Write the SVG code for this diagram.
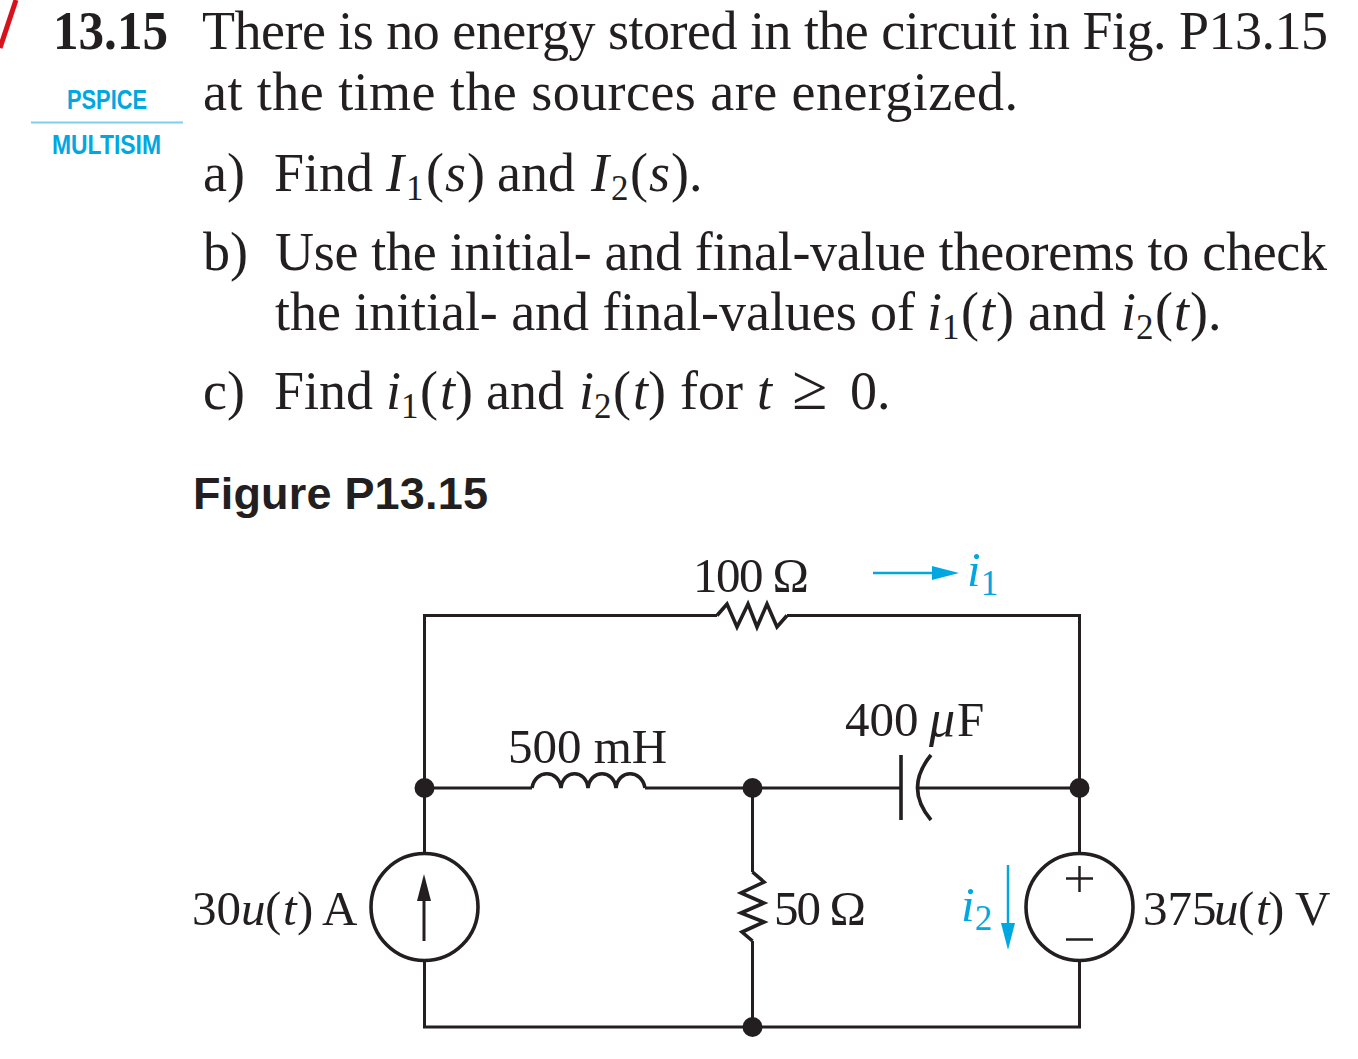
<svg xmlns="http://www.w3.org/2000/svg" width="1358" height="1059" viewBox="0 0 1358 1059">
<style>
text{font-family:"Liberation Serif","Times New Roman",serif;fill:#231f20}
.b{font-size:54px}
.c{font-size:49px}
.i{font-style:italic}
.blue{fill:#00a7e0}
.side{font-family:"Liberation Sans",Arial,sans-serif;font-weight:700;font-size:27.500px;fill:#00a7e0}
.w{fill:none;stroke:#231f20;stroke-width:3}
.thick{fill:none;stroke:#231f20;stroke-width:3.600}
.dot{fill:#231f20}
.sub{font-size:35px}
</style>
<rect width="1358" height="1059" fill="#fff"/>
<path d="M16 0L0 48" stroke="#d7121c" stroke-width="5" fill="none"/>
<g id="problem-text">
<text x="53" y="49" font-size="54" font-weight="700" textLength="115" lengthAdjust="spacingAndGlyphs">13.15</text>
<text class="b" x="202" y="49" textLength="1126">There is no energy stored in the circuit in Fig. P13.15</text>
<text class="b" x="203" y="110" textLength="815">at the time the sources are energized.</text>
<text class="side" x="67" y="109" textLength="80" lengthAdjust="spacingAndGlyphs">PSPICE</text>
<line x1="31" y1="122.500" x2="183" y2="122.500" stroke="#7fd0ee" stroke-width="2"/>
<text class="side" x="52" y="154" textLength="109" lengthAdjust="spacingAndGlyphs">MULTISIM</text>
<text class="b" x="203" y="191">a)</text>
<text class="b" y="191"><tspan x="274">Find</tspan><tspan class="i" x="386">I</tspan><tspan class="sub" x="406" dy="9">1</tspan><tspan x="426" dy="-9">(</tspan><tspan class="i" x="445">s</tspan><tspan x="467">)</tspan><tspan x="497">and</tspan><tspan class="i" x="591">I</tspan><tspan class="sub" x="611" dy="9">2</tspan><tspan x="630" dy="-9">(</tspan><tspan class="i" x="649">s</tspan><tspan x="671">).</tspan></text>
<text class="b" x="203" y="270">b)</text>
<text class="b" x="275" y="270" textLength="1052">Use the initial- and final-value theorems to check</text>
<text class="b" y="330"><tspan x="275" textLength="640">the initial- and final-values of</tspan><tspan class="i" x="927">i</tspan><tspan class="sub" x="942" dy="9">1</tspan><tspan x="961" dy="-9">(</tspan><tspan class="i" x="980">t</tspan><tspan x="996">)</tspan><tspan x="1028">and</tspan><tspan class="i" x="1121">i</tspan><tspan class="sub" x="1136" dy="9">2</tspan><tspan x="1155" dy="-9">(</tspan><tspan class="i" x="1174">t</tspan><tspan x="1190">).</tspan></text>
<text class="b" x="203" y="409">c)</text>
<text class="b" y="409"><tspan x="274">Find</tspan><tspan class="i" x="386">i</tspan><tspan class="sub" x="401" dy="9">1</tspan><tspan x="420" dy="-9">(</tspan><tspan class="i" x="440">t</tspan><tspan x="455">)</tspan><tspan x="486">and</tspan><tspan class="i" x="579">i</tspan><tspan class="sub" x="594" dy="9">2</tspan><tspan x="613" dy="-9">(</tspan><tspan class="i" x="633">t</tspan><tspan x="648">)</tspan><tspan x="680">for</tspan><tspan class="i" x="757">t</tspan><tspan x="792" font-size="64">≥</tspan><tspan x="850">0.</tspan></text>
<text x="193" y="509" font-size="45" font-weight="700" style="font-family:'Liberation Sans',Arial,sans-serif" textLength="295">Figure P13.15</text>
</g>
<g id="connectors">
<path class="w" d="M424.500 788V615.500H717M787 615.500H1079.500V855M1079.500 961V1027H424.500V961M424.500 853V788H532M645 788H901M919 788H1079.500M752.500 788V872M752.500 941V1027"/>
</g>
<g id="r100"><path class="thick" d="M717 615.500L727 604L737 627L748 604L757 627L767 604L777 627L787 615.500"/><text class="c" x="693" y="592" textLength="116">100 Ω</text></g>
<g id="l500"><path class="thick" d="M532 788C535 769 559 769 561 788C563 769 586 769 588 788C590 769 614 769 616 788C618 769 642 769 645 788"/><text class="c" x="508" y="763">500 mH</text></g>
<g id="c400"><line class="thick" x1="901" y1="755" x2="901" y2="820"/><path class="thick" d="M931 755Q904 788 931 820"/><text class="c" y="736"><tspan x="845">400</tspan><tspan class="i" x="929" font-size="52">μ</tspan><tspan x="957">F</tspan></text></g>
<g id="r50"><path class="thick" d="M752.500 872L764 882L741 893L764 903L741 913L764 922L742 932L752.500 941"/><text class="c" x="774" y="925" textLength="92">50 Ω</text></g>
<g id="isource"><circle class="thick" cx="424.500" cy="907" r="53.500" fill="#fff"/><line x1="424" y1="941" x2="424" y2="900" stroke="#231f20" stroke-width="3"/><polygon class="dot" points="424,874 431,901 417,901"/><text class="c" y="925"><tspan x="192">30</tspan><tspan class="i" x="241">u</tspan><tspan x="265">(</tspan><tspan class="i" x="283">t</tspan><tspan x="297">)</tspan><tspan x="322">A</tspan></text></g>
<g id="vsource"><circle class="thick" cx="1079.500" cy="907" r="53.500" fill="#fff"/><path d="M1066 878.500H1093M1079.500 866V892M1066 939.500H1093" fill="none" stroke="#231f20" stroke-width="2.500"/><text class="c" y="925"><tspan x="1143">375</tspan><tspan class="i" x="1214">u</tspan><tspan x="1238">(</tspan><tspan class="i" x="1256">t</tspan><tspan x="1268">)</tspan><tspan x="1295">V</tspan></text></g>
<g id="junctions"><circle class="dot" cx="424.500" cy="788" r="10"/><circle class="dot" cx="752.500" cy="788" r="10"/><circle class="dot" cx="1079.500" cy="788" r="10"/><circle class="dot" cx="752.500" cy="1027" r="10"/></g>
<g id="i1"><line x1="873" y1="573" x2="935" y2="573" stroke="#00a7e0" stroke-width="2.500"/><polygon points="959,573 932,566 932,580" fill="#00a7e0"/><text class="c blue i" x="967" y="586">i<tspan class="sub" dy="9" font-style="normal">1</tspan></text></g>
<g id="i2"><line x1="1008" y1="865" x2="1008" y2="925" stroke="#00a7e0" stroke-width="2.500"/><polygon points="1008,950 1001,923 1015,923" fill="#00a7e0"/><text class="c blue i" x="961" y="921">i<tspan class="sub" dy="9" font-style="normal">2</tspan></text></g>
</svg>
